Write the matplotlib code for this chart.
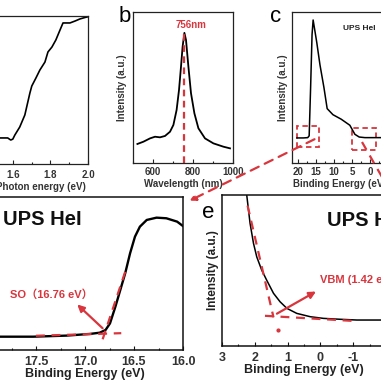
import matplotlib
matplotlib.use("Agg")
import matplotlib.pyplot as plt
from matplotlib.lines import Line2D
from matplotlib.patches import Rectangle, FancyArrowPatch
from matplotlib.ticker import MultipleLocator

plt.rcParams['font.family'] = ['Liberation Sans', 'Noto Sans CJK SC', 'DejaVu Sans']

RED = '#d8353d'
TXT = '#333333'

# ---------------- data ----------------
a_energy = [1.50, 1.531, 1.573, 1.589, 1.600, 1.611, 1.637, 1.664, 1.691, 1.701, 1.723, 1.744,
            1.771, 1.787, 1.808, 1.829, 1.851, 1.867, 1.904, 1.931, 1.957, 1.984, 2.0]
a_absorb = [0.178, 0.176, 0.176, 0.162, 0.168, 0.196, 0.25, 0.331, 0.48, 0.527, 0.581, 0.635,
            0.689, 0.757, 0.79, 0.838, 0.905, 0.953, 0.953, 0.966, 0.98, 0.99, 0.995]

b_wavelength = [522, 552, 585, 610, 635, 660, 685, 702, 718, 730, 740, 748, 757, 765, 777,
                790, 807, 827, 860, 902, 952, 985]
b_intensity = [0.126, 0.141, 0.163, 0.174, 0.17, 0.179, 0.207, 0.252, 0.351, 0.483, 0.638,
               0.77, 0.862, 0.815, 0.638, 0.462, 0.329, 0.23, 0.163, 0.13, 0.108, 0.097]
b_peak = 756

c_binding = [20.3, 18.5, 17.3, 16.9, 16.5, 16.1, 15.8, 14.8, 13.9, 12.8, 11.9, 10.3, 8.0,
             5.6, 4.9, 4.2, 3.0, 1.4, 0.0, -5.0]
c_intensity = [0.166, 0.166, 0.168, 0.18, 0.5, 0.85, 0.947, 0.80, 0.65, 0.50, 0.36, 0.32,
               0.29, 0.25, 0.22, 0.19, 0.172, 0.168, 0.168, 0.168]

d_binding = [18.0, 17.87, 17.53, 17.19, 16.95, 16.85, 16.79, 16.745, 16.69, 16.64, 16.59,
             16.54, 16.49, 16.44, 16.37, 16.27, 16.17, 16.06, 16.0]
d_intensity = [0.087, 0.087, 0.087, 0.094, 0.105, 0.113, 0.131, 0.174, 0.283, 0.392, 0.501,
               0.632, 0.741, 0.806, 0.85, 0.865, 0.861, 0.839, 0.81]

e_binding = [2.35, 2.246, 2.145, 2.04, 1.94, 1.79, 1.64, 1.43, 1.23, 1.02, 0.72, 0.31,
             -0.09, -0.60, -1.11, -1.82, -2.0]
e_intensity = [1.15, 1.0, 0.813, 0.68, 0.59, 0.503, 0.437, 0.349, 0.293, 0.249, 0.216, 0.194,
               0.183, 0.177, 0.172, 0.172, 0.172]

a_ticks = [1.6, 1.8, 2.0]
b_ticks = [600, 800, 1000]
c_ticks = [20, 15, 10, 5, 0]
d_ticks = [17.5, 17.0, 16.5, 16.0]
e_ticks = [3, 2, 1, 0, -1]

# ---------------- figure ----------------
W = 381.0
fig = plt.figure(figsize=(3.81, 3.81), dpi=100)


def px_axes(x0, y0, x1, y1):
    return fig.add_axes([x0 / W, 1 - y1 / W, (x1 - x0) / W, (y1 - y0) / W])


def style(ax, fs, lw=0.9, col='#222222', pad=3):
    for s in ax.spines.values():
        s.set_linewidth(lw)
        s.set_color(col)
    ax.tick_params(axis='x', which='both', direction='in', labelsize=fs,
                   colors=col, labelcolor=TXT)
    ax.tick_params(axis='x', which='major', length=3, width=0.8, pad=pad)
    ax.tick_params(axis='x', which='minor', length=1.8, width=0.8)
    ax.set_yticks([])
    for lab in ax.get_xticklabels():
        lab.set_fontweight('bold')


# panel a
ax_a = px_axes(-6, 16, 88, 164)
ax_a.plot(a_energy, a_absorb, color='black', lw=1.2)
ax_a.set_xlim(1.5, 2.0)
ax_a.set_ylim(0, 1)
ax_a.set_xticks(a_ticks)
ax_a.xaxis.set_minor_locator(MultipleLocator(0.1))
style(ax_a, 7, pad=4.5)
ax_a.set_xlabel('Photon energy (eV)', fontsize=7, fontweight='bold', color=TXT, labelpad=1.5)

# panel b
ax_b = px_axes(133, 12, 233, 163)
ax_b.plot(b_wavelength, b_intensity, color='black', lw=1.3)
ax_b.plot([b_peak, b_peak], [0, 0.86], color=RED, lw=1.6, ls=(0, (3, 2)))
ax_b.set_xlim(500, 1000)
ax_b.set_ylim(0, 1)
ax_b.set_xticks(b_ticks)
ax_b.xaxis.set_minor_locator(MultipleLocator(100))
style(ax_b, 7)
ax_b.set_xlabel('Wavelength (nm)', fontsize=7, fontweight='bold', color=TXT, labelpad=1)
ax_b.set_ylabel('Intensity (a.u.)', fontsize=7, fontweight='bold', color=TXT, labelpad=4)
ax_b.text(0.58, 0.915, '756nm', transform=ax_b.transAxes, ha='center', va='center',
          fontsize=7, fontweight='bold', color=RED)
fig.text(125 / W, 1 - 16 / W, 'b', fontsize=16, ha='center', va='center', color='black')

# panel c
ax_c = px_axes(292, 12, 388, 163)
ax_c.plot(c_binding, c_intensity, color='black', lw=1.1)
ax_c.set_xlim(21.67, -5.0)
ax_c.set_ylim(0, 1)
ax_c.set_xticks(c_ticks)
ax_c.xaxis.set_minor_locator(MultipleLocator(2.5))
style(ax_c, 7)
ax_c.set_xlabel('Binding Energy (eV)', fontsize=7, fontweight='bold', color=TXT, labelpad=1)
ax_c.set_ylabel('Intensity (a.u.)', fontsize=7, fontweight='bold', color=TXT, labelpad=3)
ax_c.text(0.53, 0.894, 'UPS HeI', transform=ax_c.transAxes, ha='left', va='center',
          fontsize=6, fontweight='bold', color='#222222')
for (bx0, by0, bx1, by1) in [(0.052, 0.106, 0.281, 0.245), (0.625, 0.086, 0.875, 0.232)]:
    ax_c.add_patch(Rectangle((bx0, by0), bx1 - bx0, by1 - by0, transform=ax_c.transAxes,
                             fill=False, edgecolor=RED, lw=1.3, ls=(0, (3, 2))))
fig.text(276 / W, 1 - 16 / W, 'c', fontsize=16, ha='center', va='center', color='black')

# panel d
ax_d = px_axes(-13, 197, 183, 350)
ax_d.plot(d_binding, d_intensity, color='black', lw=1.7)
ax_d.set_xlim(18.0, 16.0)
ax_d.set_ylim(0, 1)
ax_d.xaxis.set_minor_locator(MultipleLocator(0.25))
style(ax_d, 9, lw=1.1, col='#111111', pad=4.5)
ax_d.set_xticks(d_ticks, [f'{t:.1f}' for t in d_ticks], fontweight='bold')
ax_d.set_xlabel('Binding Energy (eV)', fontsize=9, fontweight='bold', color='#222222', labelpad=0)
ax_d.plot([17.5, 16.63], [0.093, 0.11], color=RED, lw=1.6, ls=(0, (4, 3)))
ax_d.plot([16.82, 16.58], [0.07, 0.53], color=RED, lw=1.6, ls=(0, (4, 3)))
ax_d.annotate('', xy=(17.10, 0.31), xytext=(16.80, 0.13),
              arrowprops=dict(arrowstyle='-|>', color=RED, lw=1.6, mutation_scale=10))
ax_d.text(0.117, 0.36, 'SO（16.76 eV）', transform=ax_d.transAxes, ha='left', va='center',
          fontsize=8, fontweight='bold', color=RED)
ax_d.text(0.082, 0.85, 'UPS HeI', transform=ax_d.transAxes, ha='left', va='center',
          fontsize=14.5, fontweight='bold', color='#111111')

# panel e
ax_e = px_axes(222, 195, 386, 346)
ax_e.plot(e_binding, e_intensity, color='black', lw=1.1)
ax_e.set_xlim(3.0, -2.0)
ax_e.set_ylim(0, 1)
ax_e.xaxis.set_minor_locator(MultipleLocator(0.5))
style(ax_e, 9, lw=1.1, col='#111111', pad=4.5)
ax_e.set_xticks(e_ticks, [str(t) for t in e_ticks], fontweight='bold')
ax_e.set_xlabel('Binding Energy (eV)', fontsize=9, fontweight='bold', color='#222222', labelpad=0)
ax_e.set_ylabel('Intensity (a.u.)', fontsize=8.5, fontweight='bold', color='#222222', labelpad=2)
ax_e.plot([2.22, 1.43], [0.93, 0.19], color=RED, lw=1.6, ls=(0, (4, 3)))
ax_e.plot([1.69, -1.01], [0.2, 0.166], color=RED, lw=1.6, ls=(0, (4, 3)))
ax_e.plot([1.29], [0.106], 'o', ms=2, color=RED)
ax_e.annotate('', xy=(0.06, 0.37), xytext=(1.40, 0.205),
              arrowprops=dict(arrowstyle='-|>', color=RED, lw=1.6, mutation_scale=10))
ax_e.text(0.598, 0.437, 'VBM (1.42 eV)', transform=ax_e.transAxes, ha='left', va='center',
          fontsize=8, fontweight='bold', color=RED)
ax_e.text(0.64, 0.834, 'UPS HeI', transform=ax_e.transAxes, ha='left', va='center',
          fontsize=14.5, fontweight='bold', color='#111111')
fig.text(208 / W, 1 - 212 / W, 'e', fontsize=16, ha='center', va='center', color='black')

# connecting dashed lines between panels
fig.add_artist(FancyArrowPatch((317 / W, 1 - 138 / W), (187 / W, 1 - 202 / W),
                               transform=fig.transFigure, arrowstyle='-|>', color=RED,
                               lw=1.6, ls=(0, (4, 3)), mutation_scale=9))
fig.add_artist(Line2D([362 / W, 398 / W], [1 - 142 / W, 1 - 205 / W],
                      transform=fig.transFigure, color=RED, lw=1.6, ls=(0, (4, 3))))

fig.savefig('out.png', dpi=100)
